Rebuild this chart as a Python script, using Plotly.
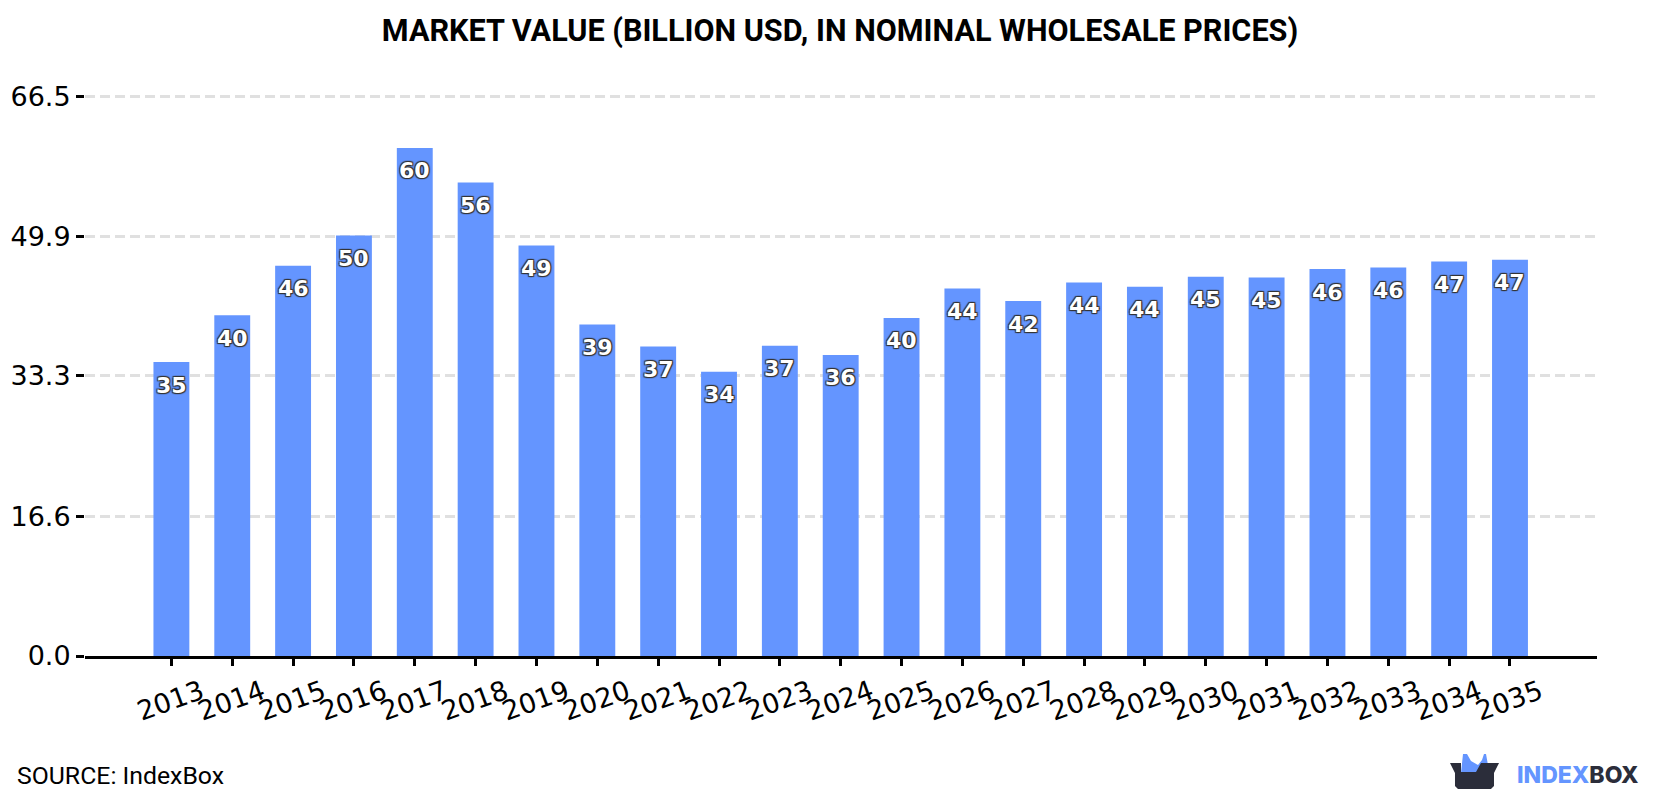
import plotly.graph_objects as go

years = list(range(2013, 2036))
values = [34.95, 40.5, 46.4, 50.0, 60.4, 56.3, 48.8, 39.4, 36.8, 33.8, 36.9, 35.8,
          40.2, 43.7, 42.2, 44.4, 43.9, 45.1, 45.0, 46.0, 46.2, 46.9, 47.1]
value_labels = ["35", "40", "46", "50", "60", "56", "49", "39", "37", "34", "37", "36",
                "40", "44", "42", "44", "44", "45", "45", "46", "46", "47", "47"]
y_ticks = [0.0, 16.6, 33.3, 49.9, 66.5]
y_tick_labels = ["0.0", "16.6", "33.3", "49.9", "66.5"]

BAR_BLUE = "#6495ff"
LOGO_DARK = "#2b2d3a"
PLOT_LEFT, PLOT_WIDTH = 85, 1512
PLOT_BOTTOM, PLOT_HEIGHT = 656, 561


def paper_path(points):
    """Closed SVG path from pixel positions, expressed in paper coordinates."""
    parts = []
    for i, (px, py) in enumerate(points):
        cmd = "M" if i == 0 else "L"
        parts.append(f"{cmd} {(px - PLOT_LEFT) / PLOT_WIDTH:.5f},{(PLOT_BOTTOM - py) / PLOT_HEIGHT:.5f}")
    return " ".join(parts) + " Z"


fig = go.Figure(go.Bar(
    x=years,
    y=values,
    width=0.59,
    marker=dict(color=BAR_BLUE, line=dict(width=0)),
    hoverinfo="x+y",
))

# Value labels hang a fixed distance below each bar top
label_font = dict(
    family="DejaVu Sans", size=22, color="white", weight="bold",
    shadow="1px 1px 1px #333, -1px -1px 1px #333, 1px -1px 1px #333, -1px 1px 1px #333",
)
annotations = [
    dict(x=year, y=val, text=lab, xref="x", yref="y", yshift=-23, xanchor="center", yanchor="middle",
         showarrow=False, font=label_font)
    for year, val, lab in zip(years, values, value_labels)
]
annotations += [
    dict(text="SOURCE: IndexBox", xref="paper", yref="paper", x=(15 - PLOT_LEFT) / PLOT_WIDTH,
         y=(PLOT_BOTTOM - 775) / PLOT_HEIGHT, xanchor="left", yanchor="middle", showarrow=False,
         font=dict(family="Roboto", size=24.8, color="black")),
    dict(text=f'<span style="color:{BAR_BLUE}">INDEX</span><span style="color:{LOGO_DARK}">BOX</span>',
         xref="paper", yref="paper", x=(1515 - PLOT_LEFT) / PLOT_WIDTH, y=(PLOT_BOTTOM - 775) / PLOT_HEIGHT,
         xanchor="left", yanchor="middle", showarrow=False,
         font=dict(family="Inter", size=23, weight=800)),
]

fig.update_layout(
    width=1680,
    height=800,
    margin=dict(l=PLOT_LEFT, r=83, t=95, b=144, autoexpand=False),
    paper_bgcolor="white",
    plot_bgcolor="white",
    showlegend=False,
    title=dict(
        text="<b>MARKET VALUE (BILLION USD, IN NOMINAL WHOLESALE PRICES)</b>",
        font=dict(family="Roboto", size=30.6, color="black"),
        x=0.5, xanchor="center", y=0.962, yanchor="middle",
    ),
    xaxis=dict(
        type="linear",
        range=[2013 - 1.42, 2035 + 1.43],
        tickmode="array", tickvals=years, ticktext=[str(y) for y in years],
        tickangle=-20,
        ticklabelshift=30,
        ticks="outside", ticklen=7, tickwidth=2.5, tickcolor="black",
        tickfont=dict(family="DejaVu Sans", size=27, color="black"),
        showline=True, linecolor="black", linewidth=3,
        showgrid=False, zeroline=False,
    ),
    yaxis=dict(
        range=[0, 66.7],
        tickmode="array", tickvals=y_ticks, ticktext=y_tick_labels,
        ticks="outside", ticklen=8, tickwidth=2.5, tickcolor="black",
        tickfont=dict(family="DejaVu Sans", size=27, color="black"),
        showline=False, zeroline=False,
        showgrid=True, gridcolor="#e0e0e0", gridwidth=2.5, griddash="10px,5px",
    ),
    annotations=annotations,
    shapes=[
        # Box logo: blue crown rising out of a dark carton
        dict(type="path", xref="paper", yref="paper", layer="above", line=dict(width=0), fillcolor=BAR_BLUE,
             path=paper_path([(1461, 773), (1463, 754), (1467, 754), (1471, 761), (1478, 765),
                              (1482, 760), (1484, 754), (1486, 754), (1488, 765), (1487, 773)])),
        dict(type="path", xref="paper", yref="paper", layer="above", line=dict(width=0), fillcolor=LOGO_DARK,
             path=paper_path([(1450, 763), (1461, 763), (1461, 772), (1476, 772), (1481, 763),
                              (1499, 763), (1494, 773), (1494, 786), (1491, 789), (1458, 789),
                              (1455, 786), (1455, 773)])),
    ],
)

fig.write_html("out.html")
